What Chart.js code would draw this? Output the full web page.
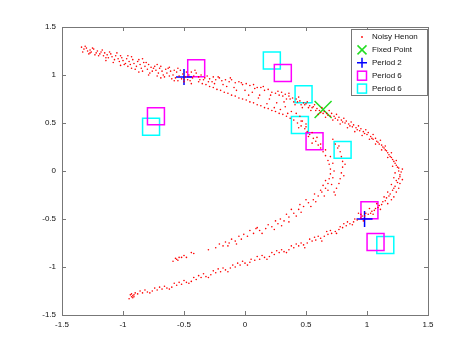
<!DOCTYPE html>
<html><head><meta charset="utf-8">
<script src="https://cdn.jsdelivr.net/npm/chart.js@4/dist/chart.umd.min.js"></script>
<style>html,body{margin:0;padding:0;background:#fff;}canvas{display:block;}</style>
</head><body>
<canvas id="c" width="474" height="355"></canvas>
<script>
// ---- data ----
const seriesLabels = ['Noisy Henon', 'Fixed Point', 'Period 2', 'Period 6', 'Period 6'];
const tickValues = [-1.5, -1, -0.5, 0, 0.5, 1, 1.5];

const henonTopLeft = [
[-1.34,1.29],[-1.32,1.27],[-1.30,1.28],[-1.29,1.25],[-1.27,1.26],[-1.26,1.24],[-1.24,1.27],[-1.22,1.23],[-1.21,1.25],[-1.19,1.22],
[-1.18,1.24],[-1.16,1.20],[-1.15,1.23],[-1.13,1.21],[-1.12,1.18],[-1.10,1.22],[-1.09,1.19],[-1.07,1.16],[-1.06,1.20],[-1.04,1.17],
[-1.03,1.14],[-1.01,1.18],[-1.00,1.15],[-0.98,1.12],[-0.97,1.17],[-0.95,1.14],[-0.94,1.11],[-0.92,1.16],[-0.91,1.12],[-0.89,1.09],
[-0.88,1.14],[-0.86,1.11],[-0.85,1.07],[-0.83,1.13],[-0.82,1.09],[-0.80,1.06],[-0.79,1.11],[-0.77,1.08],[-0.76,1.04],[-0.74,1.09],
[-0.73,1.05],[-0.71,1.02],[-0.70,1.07],[-0.68,1.04],[-0.67,1.00],[-0.65,1.06],[-0.64,1.02],[-0.62,0.99],[-0.61,1.04],[-0.59,1.00],
[-0.57,0.97],[-0.56,1.03],[-0.54,0.99],[-0.52,0.96],[-0.51,1.01],[-0.49,0.98],[-0.47,0.95],[-0.46,1.00],
[-1.33,1.24],[-1.28,1.22],[-1.25,1.28],[-1.20,1.20],[-1.14,1.18],[-1.11,1.24],[-1.08,1.13],[-1.02,1.20],[-0.99,1.11],[-0.96,1.09],
[-0.93,1.19],[-0.90,1.06],[-0.87,1.16],[-0.84,1.04],[-0.81,1.13],[-0.78,1.02],[-0.75,1.07],[-0.72,0.99],[-0.69,1.09],[-0.66,0.98],
[-0.63,1.07],[-0.60,0.96],[-0.58,1.05],[-0.55,0.94],[-0.53,1.05],[-0.50,0.93],[-0.48,1.03],[-0.45,0.94],
[-1.31,1.30],[-1.27,1.23],[-1.23,1.21],[-1.17,1.26],[-1.14,1.15],[-1.05,1.23],[-1.02,1.10],[-0.96,1.20],[-0.93,1.07],[-0.87,1.03],
[-0.84,1.17],[-0.79,1.00],[-0.72,1.11],[-0.69,0.97],[-0.62,1.08],[-0.58,0.94],[-0.55,1.07],[-0.50,0.95],[-0.44,0.91],[-0.41,1.05]
];
const henonOuter = [
[-0.44,1.03],[-0.42,0.99],[-0.40,1.02],[-0.38,0.98],[-0.36,1.00],[-0.33,0.97],[-0.31,0.99],[-0.29,0.96],[-0.26,0.98],[-0.24,0.95],
[-0.21,0.97],[-0.19,0.94],[-0.16,0.95],[-0.13,0.93],[-0.11,0.95],[-0.08,0.92],[-0.05,0.93],[-0.02,0.90],[0.01,0.91],[0.04,0.89],
[0.07,0.90],[0.10,0.87],[0.13,0.87],[0.16,0.84],[0.19,0.85],[0.22,0.82],[0.25,0.81],[0.28,0.79],[0.31,0.78],[0.34,0.75],
[0.37,0.75],[0.40,0.72],[0.43,0.72],[0.46,0.69],[0.49,0.69],[0.52,0.66],[0.55,0.66],[0.58,0.63],[0.61,0.63],[0.64,0.60],
[0.67,0.60],[0.70,0.57],[0.73,0.57],[0.76,0.53],[0.79,0.53],[0.82,0.50],[0.85,0.49],[0.88,0.46],[0.91,0.45],[0.94,0.42],
[0.97,0.41],[1.00,0.38],[1.03,0.36],[1.05,0.33],[1.08,0.31],[1.10,0.28],[1.13,0.25],[1.15,0.22],[1.17,0.19],[1.19,0.15],
[1.21,0.12],[1.23,0.08],[1.25,0.04],[1.26,0.00],[1.27,-0.04],[1.26,-0.08],[1.25,-0.12],[1.23,-0.16],[1.21,-0.20],[1.19,-0.24],
[1.16,-0.28],[1.13,-0.32],[1.10,-0.36],[1.07,-0.39],[1.04,-0.42],[1.01,-0.45],[0.98,-0.47],[0.95,-0.49],[0.92,-0.51],[0.89,-0.53],
[0.86,-0.55],[0.83,-0.57],[0.80,-0.59],[0.77,-0.61],[0.74,-0.63],[0.71,-0.65],[0.68,-0.66],[0.65,-0.68],[0.62,-0.70],[0.58,-0.72],
[0.55,-0.73],[0.51,-0.75],[0.48,-0.77],[0.44,-0.78],[0.40,-0.80],[0.36,-0.82],[0.32,-0.84],[0.28,-0.85],[0.24,-0.87],[0.20,-0.89],
[0.16,-0.90],[0.12,-0.92],[0.08,-0.93],[0.04,-0.95],[0.00,-0.96],[-0.04,-0.98],[-0.08,-1.00],[-0.12,-1.01],[-0.16,-1.03],[-0.20,-1.05],
[-0.24,-1.06],[-0.28,-1.08],[-0.32,-1.10],[-0.36,-1.11],[-0.40,-1.13],[-0.44,-1.15],[-0.48,-1.16],[-0.52,-1.18],[-0.56,-1.19],[-0.60,-1.21],
[-0.64,-1.22],[-0.68,-1.23],[-0.72,-1.24],[-0.76,-1.25],[-0.80,-1.26],[-0.84,-1.27],[-0.88,-1.28],[-0.91,-1.29],[-0.93,-1.31]
];
const henonOuterExtra = [
[0.30,0.82],[0.33,0.80],[0.36,0.78],[0.39,0.76],[0.42,0.75],[0.45,0.73],[0.48,0.71],[0.50,0.70],[0.53,0.68],[0.56,0.67],
[0.59,0.65],[0.62,0.61],[0.65,0.62],[0.68,0.58],[0.71,0.60],[0.74,0.55],[0.77,0.56],[0.80,0.51],[0.83,0.52],[0.86,0.47],
[0.89,0.48],[0.92,0.43],[0.95,0.44],[0.98,0.39],[1.01,0.40],[1.04,0.34],[1.07,0.34],[1.09,0.30],[1.12,0.27],[1.14,0.24],
[1.16,0.21],[1.18,0.17],[1.20,0.14],[1.22,0.10],[1.24,0.06],[1.26,0.03],[1.28,-0.01],[1.27,-0.06],[1.24,-0.10],[1.27,-0.13],
[1.22,-0.18],[1.24,-0.22],[1.18,-0.26],[1.20,-0.30],[1.15,-0.31],[1.12,-0.35],[1.09,-0.38],[1.06,-0.41],[1.03,-0.44],[0.99,-0.44],
[0.96,-0.47],[0.95,-0.45],[0.90,-0.50],[0.84,-0.53],[0.78,-0.58],[0.70,-0.62],[0.60,-0.68],[0.53,-0.71],[0.46,-0.75],[0.38,-0.78],
[0.30,-0.82],[0.22,-0.85],[0.14,-0.88],[0.05,-0.92],[-0.02,-0.94],[-0.10,-0.98],[-0.18,-1.01],[-0.26,-1.04],[-0.34,-1.07],[-0.42,-1.11],
[-0.50,-1.14],[-0.58,-1.17],[-0.66,-1.20],[-0.74,-1.22],[-0.82,-1.24],[-0.90,-1.27],[-0.92,-1.30],[-0.94,-1.29],[-0.91,-1.31],[-0.95,-1.33],
[-0.37,0.95],[-0.30,0.93],[-0.25,0.91],[-0.22,0.98],[-0.15,0.88],[-0.12,0.97],[-0.07,0.84],[-0.03,0.92],[0.03,0.79],[0.08,0.86],
[0.11,0.76],[0.15,0.88],[0.18,0.70],[0.21,0.79],[0.24,0.66],[0.27,0.83],[0.29,0.64],[0.32,0.72],[0.35,0.60],[0.36,0.81],
[0.41,0.69],[0.44,0.77],[0.47,0.66],[0.51,0.72],[0.54,0.63],[0.57,0.69],[0.60,0.59],[0.63,0.66],[0.66,0.56],[0.69,0.63],
[0.72,0.53],[0.75,0.59],[0.78,0.49],[0.81,0.55],[0.84,0.45],[0.87,0.51],[0.90,0.41],[0.93,0.47],[0.96,0.37],[0.99,0.43],
[1.02,0.33],[1.05,0.38],[1.07,0.28],[1.11,0.32],[1.12,0.22],[1.15,0.26],[1.17,0.14],[1.20,0.19],[1.21,0.05],[1.24,0.11],
[1.23,-0.02],[1.29,0.02],[1.22,-0.07],[1.29,-0.09],[1.20,-0.14],[1.26,-0.18],[1.17,-0.22],[1.22,-0.27],[1.14,-0.27],[1.17,-0.34],
[1.08,-0.34],[1.11,-0.40],[1.02,-0.39],[1.05,-0.45],[0.93,-0.44],[0.97,-0.52],
[0.88,-0.56],[0.81,-0.55],[0.75,-0.65],[0.67,-0.63],[0.63,-0.73],[0.57,-0.69],[0.49,-0.80],[0.42,-0.76],[0.34,-0.85],[0.26,-0.83],
[0.18,-0.92],[0.10,-0.89],[0.02,-0.98],[-0.06,-0.96],[-0.14,-1.05],[-0.22,-1.02],[-0.30,-1.11],[-0.38,-1.09],[-0.46,-1.17],[-0.54,-1.16],
[-0.62,-1.23],[-0.70,-1.21],[-0.78,-1.27],[-0.86,-1.25],[-0.93,-1.28],[-0.92,-1.32]
];
const henonInner = [
[-0.38,0.93],[-0.35,0.91],[-0.32,0.90],[-0.29,0.88],[-0.26,0.87],[-0.23,0.85],[-0.20,0.84],[-0.17,0.82],[-0.14,0.81],[-0.11,0.79],
[-0.08,0.78],[-0.05,0.76],[-0.02,0.75],[0.01,0.74],[0.04,0.72],[0.07,0.71],[0.10,0.69],[0.13,0.68],[0.16,0.66],[0.19,0.65],
[0.22,0.63],[0.25,0.62],[0.28,0.60],[0.31,0.59],[0.34,0.57],[0.37,0.55],[0.40,0.53],[0.43,0.50],[0.46,0.47],[0.49,0.44],
[0.51,0.41],[0.53,0.38],[0.56,0.34],[0.58,0.31],[0.60,0.27],[0.62,0.24],[0.64,0.20],[0.66,0.16],[0.68,0.11],[0.69,0.07],
[0.70,0.02],[0.70,-0.03],[0.69,-0.08],[0.68,-0.13],[0.66,-0.18],[0.63,-0.22],[0.60,-0.26],[0.56,-0.30],[0.52,-0.33],[0.48,-0.37],
[0.44,-0.40],[0.40,-0.44],[0.36,-0.48],[0.32,-0.52],[0.27,-0.55],[0.22,-0.58],[0.17,-0.60],[0.12,-0.62],[0.07,-0.65],[0.02,-0.68],
[-0.03,-0.71],[-0.08,-0.73],[-0.13,-0.75],[-0.18,-0.78],[-0.24,-0.80],[-0.30,-0.82],[-0.42,-0.86],[-0.50,-0.88],[-0.52,-0.90],
[-0.54,-0.90],[-0.56,-0.92],[-0.57,-0.91],[-0.59,-0.94],
[0.72,0.33],[0.74,0.28],[0.76,0.24],[0.78,0.20],[0.79,0.15],[0.80,0.10],[0.80,0.04],[0.79,-0.02],[0.78,-0.08],[0.77,-0.13],
[0.75,-0.18],[0.73,-0.22],
[0.66,-0.10],[0.64,-0.15],[0.62,-0.20],[0.57,-0.24],[0.50,-0.30],[0.45,-0.35],[0.38,-0.40],[0.34,-0.45],[0.29,-0.50],[0.25,-0.52],
[0.19,-0.56],[0.10,-0.59],[0.04,-0.62],[-0.05,-0.68],[-0.11,-0.71],[-0.16,-0.74],
[-0.43,0.97],[-0.34,0.95],[-0.27,0.93],[-0.18,0.90],[-0.09,0.87],[0.00,0.84],[0.06,0.82],[0.12,0.79],[0.20,0.75],[0.26,0.71],
[0.33,0.67],[0.38,0.62],[0.42,0.60],[0.45,0.57],[0.47,0.52],[0.50,0.49],[0.44,0.45],[0.52,0.36],[0.55,0.29],[0.46,0.52],
[0.66,0.22],[0.70,0.15],[0.72,0.08],[0.73,0.00],[0.72,-0.07],[0.71,-0.14],[0.68,-0.20],[0.65,-0.26],[0.58,-0.32],[0.54,-0.37],
[0.46,-0.43],[0.42,-0.47],[0.36,-0.53],[0.30,-0.57],[0.24,-0.61],[0.14,-0.65],[0.09,-0.60],[-0.01,-0.66],[-0.07,-0.76],[-0.14,-0.78],
[-0.21,-0.76],[-0.44,-0.85],[-0.48,-0.90],[-0.55,-0.93],[0.62,0.28],[0.59,0.35],[0.55,0.40],[0.50,0.46],
[0.82,0.07],[0.81,-0.05],[0.77,0.26],[0.74,-0.25]
];
const fixedPoint = [[0.64, 0.64]];
const period2 = [[-0.50, 0.98], [0.98, -0.50]];
const period6a = [[-0.40, 1.07], [1.07, -0.74], [-0.73, 0.57], [0.57, 0.31], [0.31, 1.02], [1.02, -0.41]];
const period6b = [[0.22, 1.15], [1.15, -0.77], [-0.77, 0.46], [0.45, 0.48], [0.48, 0.80], [0.80, 0.22]];

const toXY = arr => arr.map(p => ({x: p[0], y: p[1]}));
const henonAll = [].concat(henonTopLeft, henonOuter, henonOuterExtra, henonInner);

const styles = [
  {type:'dot', color:'#ff0000'},
  {type:'x', color:'#22dd22'},
  {type:'plus', color:'#0000ff'},
  {type:'square', color:'#ff00ff'},
  {type:'square', color:'#00ffff'}
];

function drawMark(ctx, st, x, y, s) {
  ctx.save();
  ctx.strokeStyle = st.color; ctx.fillStyle = st.color; ctx.lineWidth = 1.5;
  ctx.beginPath();
  if (st.type === 'dot') { ctx.arc(x, y, 0.9, 0, Math.PI*2); ctx.fill(); }
  else if (st.type === 'x') { ctx.moveTo(x-s,y-s); ctx.lineTo(x+s,y+s); ctx.moveTo(x-s,y+s); ctx.lineTo(x+s,y-s); ctx.stroke(); }
  else if (st.type === 'plus') { ctx.moveTo(x-s,y); ctx.lineTo(x+s,y); ctx.moveTo(x,y-s); ctx.lineTo(x,y+s); ctx.stroke(); }
  else { ctx.strokeRect(x-s, y-s, 2*s, 2*s); }
  ctx.restore();
}

const boxPlugin = {
  id: 'boxTicks',
  afterDraw(chart) {
    const {ctx, chartArea: a, scales} = chart;
    ctx.save();
    ctx.strokeStyle = '#777'; ctx.lineWidth = 1;
    ctx.strokeRect(Math.round(a.left)+0.5, Math.round(a.top)+0.5, Math.round(a.right-a.left), Math.round(a.bottom-a.top));
    ctx.beginPath();
    tickValues.forEach(v => {
      const px = Math.round(scales.x.getPixelForValue(v)) + 0.5;
      ctx.moveTo(px, a.bottom); ctx.lineTo(px, a.bottom - 4);
      ctx.moveTo(px, a.top); ctx.lineTo(px, a.top + 4);
      const py = Math.round(scales.y.getPixelForValue(v)) + 0.5;
      ctx.moveTo(a.left, py); ctx.lineTo(a.left + 4, py);
      ctx.moveTo(a.right, py); ctx.lineTo(a.right - 4, py);
    });
    ctx.stroke();
    // legend
    const L = 351, T = 29, R = Math.round(a.right), B = 95;
    ctx.fillStyle = '#fff';
    ctx.fillRect(L, T, R - L, B - T);
    ctx.strokeStyle = '#777';
    ctx.strokeRect(L + 0.5, T + 0.5, R - L - 1, B - T);
    ctx.font = '8px "Liberation Sans", Arial, sans-serif';
    ctx.textBaseline = 'middle'; ctx.textAlign = 'left';
    seriesLabels.forEach((lab, i) => {
      const y = 37 + i * 12.9;
      const st = styles[i];
      drawMark(ctx, st, 362, y, st.type === 'square' ? 4.5 : (st.type === 'x' ? 4.5 : 5));
      ctx.fillStyle = '#111';
      ctx.fillText(lab, 372, y);
    });
    ctx.restore();
  }
};

const tickFont = {family: '"Liberation Sans", Arial, sans-serif', size: 8};
const mkScale = (isX) => ({
  type: 'linear', min: -1.5, max: 1.5,
  afterBuildTicks: s => { s.ticks = tickValues.map(v => ({value: v})); },
  grid: {display: false, drawTicks: false},
  border: {display: false},
  ticks: {font: tickFont, color: '#111', padding: isX ? 5 : 6, callback: v => String(v), maxRotation: 0, autoSkip: false},
  afterFit: s => { if (isX) s.height = 40; else s.width = 62; }
});

new Chart(document.getElementById('c').getContext('2d'), {
  type: 'scatter',
  data: {
    datasets: [
      {label: seriesLabels[0], data: toXY(henonAll), pointStyle: 'circle', pointRadius: 0.8, pointBorderWidth: 0, backgroundColor: '#ff0000', borderColor: '#ff0000'},
      {label: seriesLabels[1], data: toXY(fixedPoint), pointStyle: 'crossRot', pointRadius: 12, pointBorderWidth: 1.5, borderColor: '#22dd22', backgroundColor: '#22dd22'},
      {label: seriesLabels[2], data: toXY(period2), pointStyle: 'cross', pointRadius: 8, pointBorderWidth: 1.5, borderColor: '#0000ff', backgroundColor: '#0000ff'},
      {label: seriesLabels[3], data: toXY(period6a), pointStyle: 'rect', pointRadius: 12, pointBorderWidth: 1.5, borderColor: '#ff00ff', backgroundColor: 'rgba(0,0,0,0)'},
      {label: seriesLabels[4], data: toXY(period6b), pointStyle: 'rect', pointRadius: 12, pointBorderWidth: 1.5, borderColor: '#00ffff', backgroundColor: 'rgba(0,0,0,0)'}
    ]
  },
  options: {
    responsive: false, animation: false,
    layout: {padding: {left: 0, right: 46, top: 27, bottom: 0}},
    plugins: {legend: {display: false}, tooltip: {enabled: false}},
    scales: {x: mkScale(true), y: mkScale(false)}
  },
  plugins: [boxPlugin]
});
</script>
</body></html>
